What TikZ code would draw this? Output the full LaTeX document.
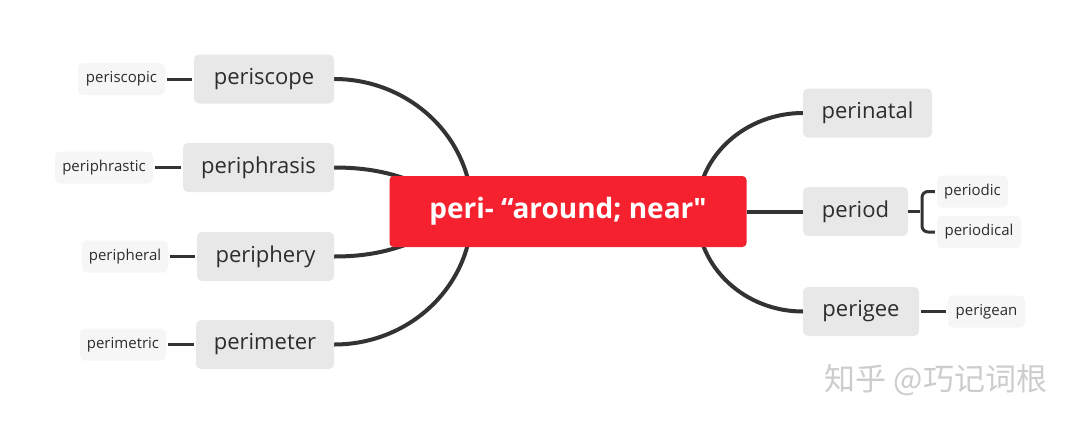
\documentclass[tikz,border=0pt]{standalone}
\usepackage{fontspec}
\setmainfont{Open Sans}
\newfontfamily\cjkfont{Noto Sans CJK SC}
\usepackage{tikz}
\usetikzlibrary{positioning,backgrounds}
\usepackage{xcolor}
\definecolor{mmred}{RGB}{245,33,47}
\definecolor{mmgray}{RGB}{232,232,232}
\definecolor{mmlight}{RGB}{246,246,246}
\definecolor{mmline}{RGB}{51,51,51}
\definecolor{mmtext}{RGB}{45,45,45}
\definecolor{mmmark}{RGB}{205,205,205}
\newcommand\plainquote{\XeTeXglyph\XeTeXcharglyph"22\relax}
\tikzstyle{root} = [rectangle, rounded corners=4pt, inner sep=0pt, minimum width=357pt, minimum height=71pt, text centered, fill=mmred, text=white, font=\fontsize{28}{30}\selectfont\bfseries]
\tikzstyle{topic} = [rectangle, rounded corners=5pt, inner sep=0pt, minimum height=49pt, text centered, fill=mmgray, text=mmtext, font=\fontsize{22}{24}\selectfont]
\tikzstyle{subtopic} = [rectangle, rounded corners=5pt, inner sep=0pt, minimum height=32pt, text centered, fill=mmlight, text=mmtext, font=\fontsize{15}{17}\selectfont]
\tikzstyle{branch} = [line width=4pt, color=mmline]
\tikzstyle{twig} = [line width=3pt, color=mmline]
\begin{document}
\begin{tikzpicture}[x=1pt, y=-1pt]
\useasboundingbox (0,0) rectangle (1080,424);

% Central concept
\node[root] (peri) at (568,211.5) {peri- “around; near\plainquote};
\coordinate (lhub) at (472,211.5);
\coordinate (rhub) at (697,211.5);

% Left topics
\node[topic, minimum width=140pt] (periscope) at (264,79) {periscope};
\node[topic, minimum width=151pt] (periphrasis) at (258.5,167.5) {periphrasis};
\node[topic, minimum width=137pt] (periphery) at (265.5,256.5) {periphery};
\node[topic, minimum width=138pt] (perimeter) at (265,344.5) {perimeter};

% Left subtopics
\node[subtopic, minimum width=87pt] (periscopic) at (121.5,79) {periscopic};
\node[subtopic, minimum width=98pt] (periphrastic) at (104,167.5) {periphrastic};
\node[subtopic, minimum width=86pt] (peripheral) at (125,256.5) {peripheral};
\node[subtopic, minimum width=86pt] (perimetric) at (123,344.5) {perimetric};

% Right topics
\node[topic, minimum width=129pt] (perinatal) at (867.5,113) {perinatal};
\node[topic, minimum width=105pt] (period) at (855.5,211.5) {period};
\node[topic, minimum width=116pt] (perigee) at (861,311.5) {perigee};

% Right subtopics
\node[subtopic, minimum width=71pt] (periodic) at (972.5,191.5) {periodic};
\node[subtopic, minimum width=84pt] (periodical) at (979,232) {periodical};
\node[subtopic, minimum width=77pt] (perigean) at (986.5,311.5) {perigean};
\coordinate (brace) at (922,211.5);

% Watermark
\node[text=mmmark, font=\cjkfont\fontsize{31}{33}\selectfont] (mark) at (936,380) {知乎 @巧记词根};

% Connections
\begin{scope}[on background layer]
\fill[white] (0,0) rectangle (1080,424);
\draw[branch] (periscope.east) to[out=0, in=90] (lhub);
\draw[branch] (periphrasis.east) to[out=0, in=150] (lhub);
\draw[branch] (periphery.east) to[out=0, in=210] (lhub);
\draw[branch] (perimeter.east) to[out=0, in=270] (lhub);
\draw[branch] (perinatal.west) to[out=180, in=90] (rhub);
\draw[branch] (peri.east) -- (period.west);
\draw[branch] (perigee.west) to[out=180, in=270] (rhub);
\end{scope}
\draw[twig, shorten <=2pt, shorten >=2pt] (periscopic) -- (periscope);
\draw[twig, shorten <=2pt, shorten >=2pt] (periphrastic) -- (periphrasis);
\draw[twig, shorten <=2pt, shorten >=2pt] (peripheral) -- (periphery);
\draw[twig, shorten <=2pt, shorten >=2pt] (perimetric) -- (perimeter);
\draw[twig, shorten >=2pt] (period.east) -- (brace);
\draw[twig, rounded corners=6pt, shorten <=2pt, shorten >=2pt] (periodic.west) -| (brace) |- (periodical.west);
\draw[twig, shorten <=2pt, shorten >=2pt] (perigee) -- (perigean);
\end{tikzpicture}
\end{document}
